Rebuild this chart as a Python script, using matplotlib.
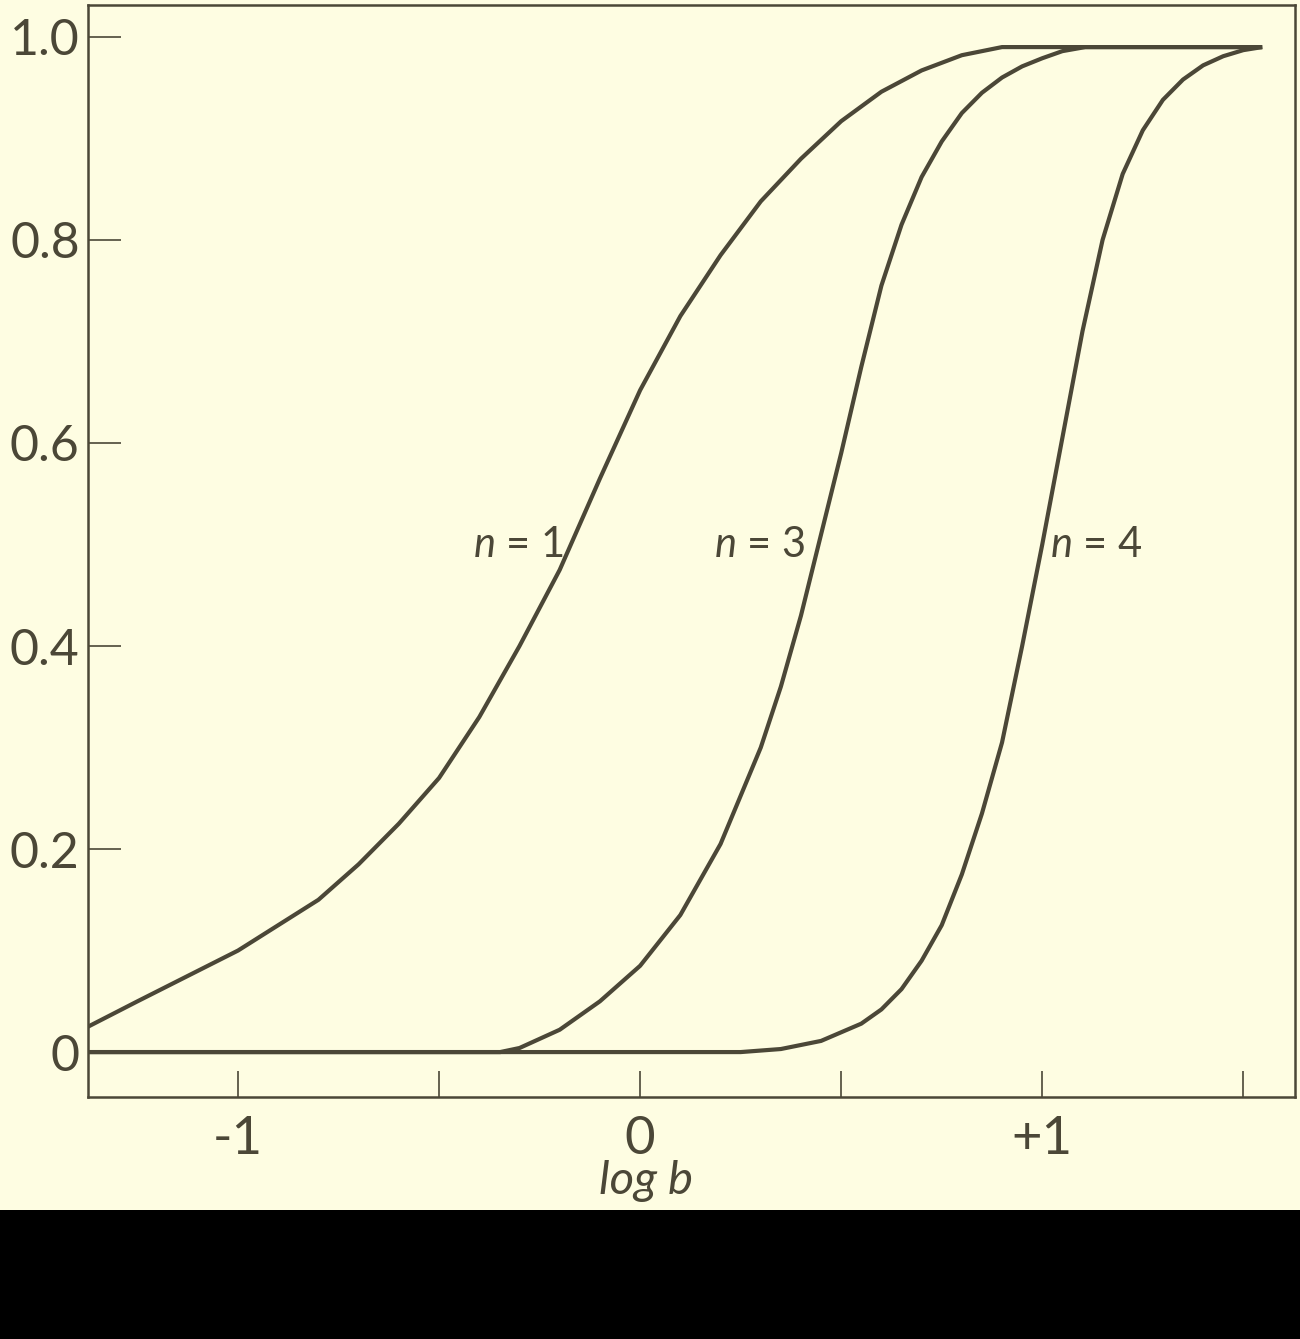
import matplotlib
matplotlib.use("Agg")
import matplotlib.pyplot as plt
from matplotlib.patches import Rectangle

# values (log b vs. fraction)
logb_n1 = [-1.373, -1.25, -1.1, -1.0, -0.9, -0.8, -0.7, -0.6, -0.5, -0.4, -0.3,
           -0.2, -0.1, 0.0, 0.1, 0.2, 0.3, 0.4, 0.5, 0.6, 0.7, 0.8, 0.9, 1.547]
frac_n1 = [0.025, 0.05, 0.08, 0.10, 0.125, 0.15, 0.185, 0.225, 0.27, 0.33, 0.40,
           0.475, 0.565, 0.652, 0.725, 0.785, 0.838, 0.88, 0.917, 0.946, 0.967,
           0.982, 0.99, 0.99]

logb_n3 = [-1.373, -0.348, -0.3, -0.2, -0.1, 0.0, 0.1, 0.2, 0.3, 0.35, 0.4, 0.45,
           0.5, 0.55, 0.6, 0.65, 0.7, 0.75, 0.8, 0.85, 0.9, 0.95, 1.0, 1.05, 1.107, 1.547]
frac_n3 = [0.0, 0.0, 0.004, 0.022, 0.05, 0.085, 0.135, 0.205, 0.30, 0.36, 0.43,
           0.51, 0.59, 0.675, 0.755, 0.815, 0.862, 0.897, 0.925, 0.945, 0.96, 0.971,
           0.979, 0.986, 0.99, 0.99]

logb_n4 = [-1.373, 0.25, 0.35, 0.45, 0.55, 0.6, 0.65, 0.7, 0.75, 0.8, 0.85, 0.9,
           0.95, 1.0, 1.05, 1.1, 1.15, 1.2, 1.25, 1.3, 1.35, 1.4, 1.45, 1.5, 1.547]
frac_n4 = [0.0, 0.0, 0.003, 0.011, 0.028, 0.042, 0.062, 0.09, 0.125, 0.175, 0.235,
           0.305, 0.40, 0.50, 0.605, 0.71, 0.80, 0.865, 0.908, 0.938, 0.958, 0.972,
           0.981, 0.987, 0.99]

curve_labels = ["1", "3", "4"]

yticks = [0, 0.2, 0.4, 0.6, 0.8, 1.0]
ytick_labels = ["0", "0.2", "0.4", "0.6", "0.8", "1.0"]
xticks = [-1, -0.5, 0, 0.5, 1, 1.5]
xtick_labels = ["-1", "", "0", "", "+1", ""]

bg = "#fefde2"
ink = "#4b4737"

plt.rcParams['font.family'] = ['Lato', 'DejaVu Sans']
plt.rcParams['mathtext.fontset'] = 'custom'
plt.rcParams['mathtext.it'] = 'Lato:italic'
plt.rcParams['mathtext.rm'] = 'Lato'

fig = plt.figure(figsize=(13, 13.39), dpi=100)
fig.patch.set_facecolor(bg)
ax = fig.add_axes([0.0677, 0.1807, 0.9286, 0.8156])
ax.set_facecolor(bg)

for xs, ys in [(logb_n1, frac_n1), (logb_n3, frac_n3), (logb_n4, frac_n4)]:
    ax.plot(xs, ys, color=ink, lw=3.0, solid_capstyle='butt', solid_joinstyle='round')

ax.set_xlim(-1.373, 1.629)
ax.set_ylim(-0.0443, 1.0315)

for s in ax.spines.values():
    s.set_color(ink)
    s.set_linewidth(1.8)

ax.set_yticks(yticks)
ax.set_yticklabels(ytick_labels)
ax.set_xticks(xticks)
ax.set_xticklabels(xtick_labels)
ax.tick_params(axis='y', direction='in', length=24, width=1.2, color=ink,
               labelsize=36, labelcolor=ink, pad=6)
ax.tick_params(axis='x', direction='in', length=19, width=1.2, color=ink,
               labelsize=38, labelcolor=ink, pad=14)

# curve labels: n=1 and n=3 left of their curve, n=4 to the right
label_pos = [(-0.19, 0.5, 'right'), (0.41, 0.5, 'right'), (1.02, 0.5, 'left')]
for num, (lx, ly, ha) in zip(curve_labels, label_pos):
    ax.text(lx, ly, r"$n$ = " + num, ha=ha, va='center',
            fontsize=30, color=ink)

ax.set_xlabel("log b", fontsize=34, color=ink, style='italic')
ax.xaxis.set_label_coords(0.462, -0.058)

# dark band along the bottom of the scan
fig.patches.append(Rectangle((0, 0), 1, 0.0963, transform=fig.transFigure,
                             facecolor='black', edgecolor='none'))

fig.savefig("out.png", dpi=100, facecolor=bg)
